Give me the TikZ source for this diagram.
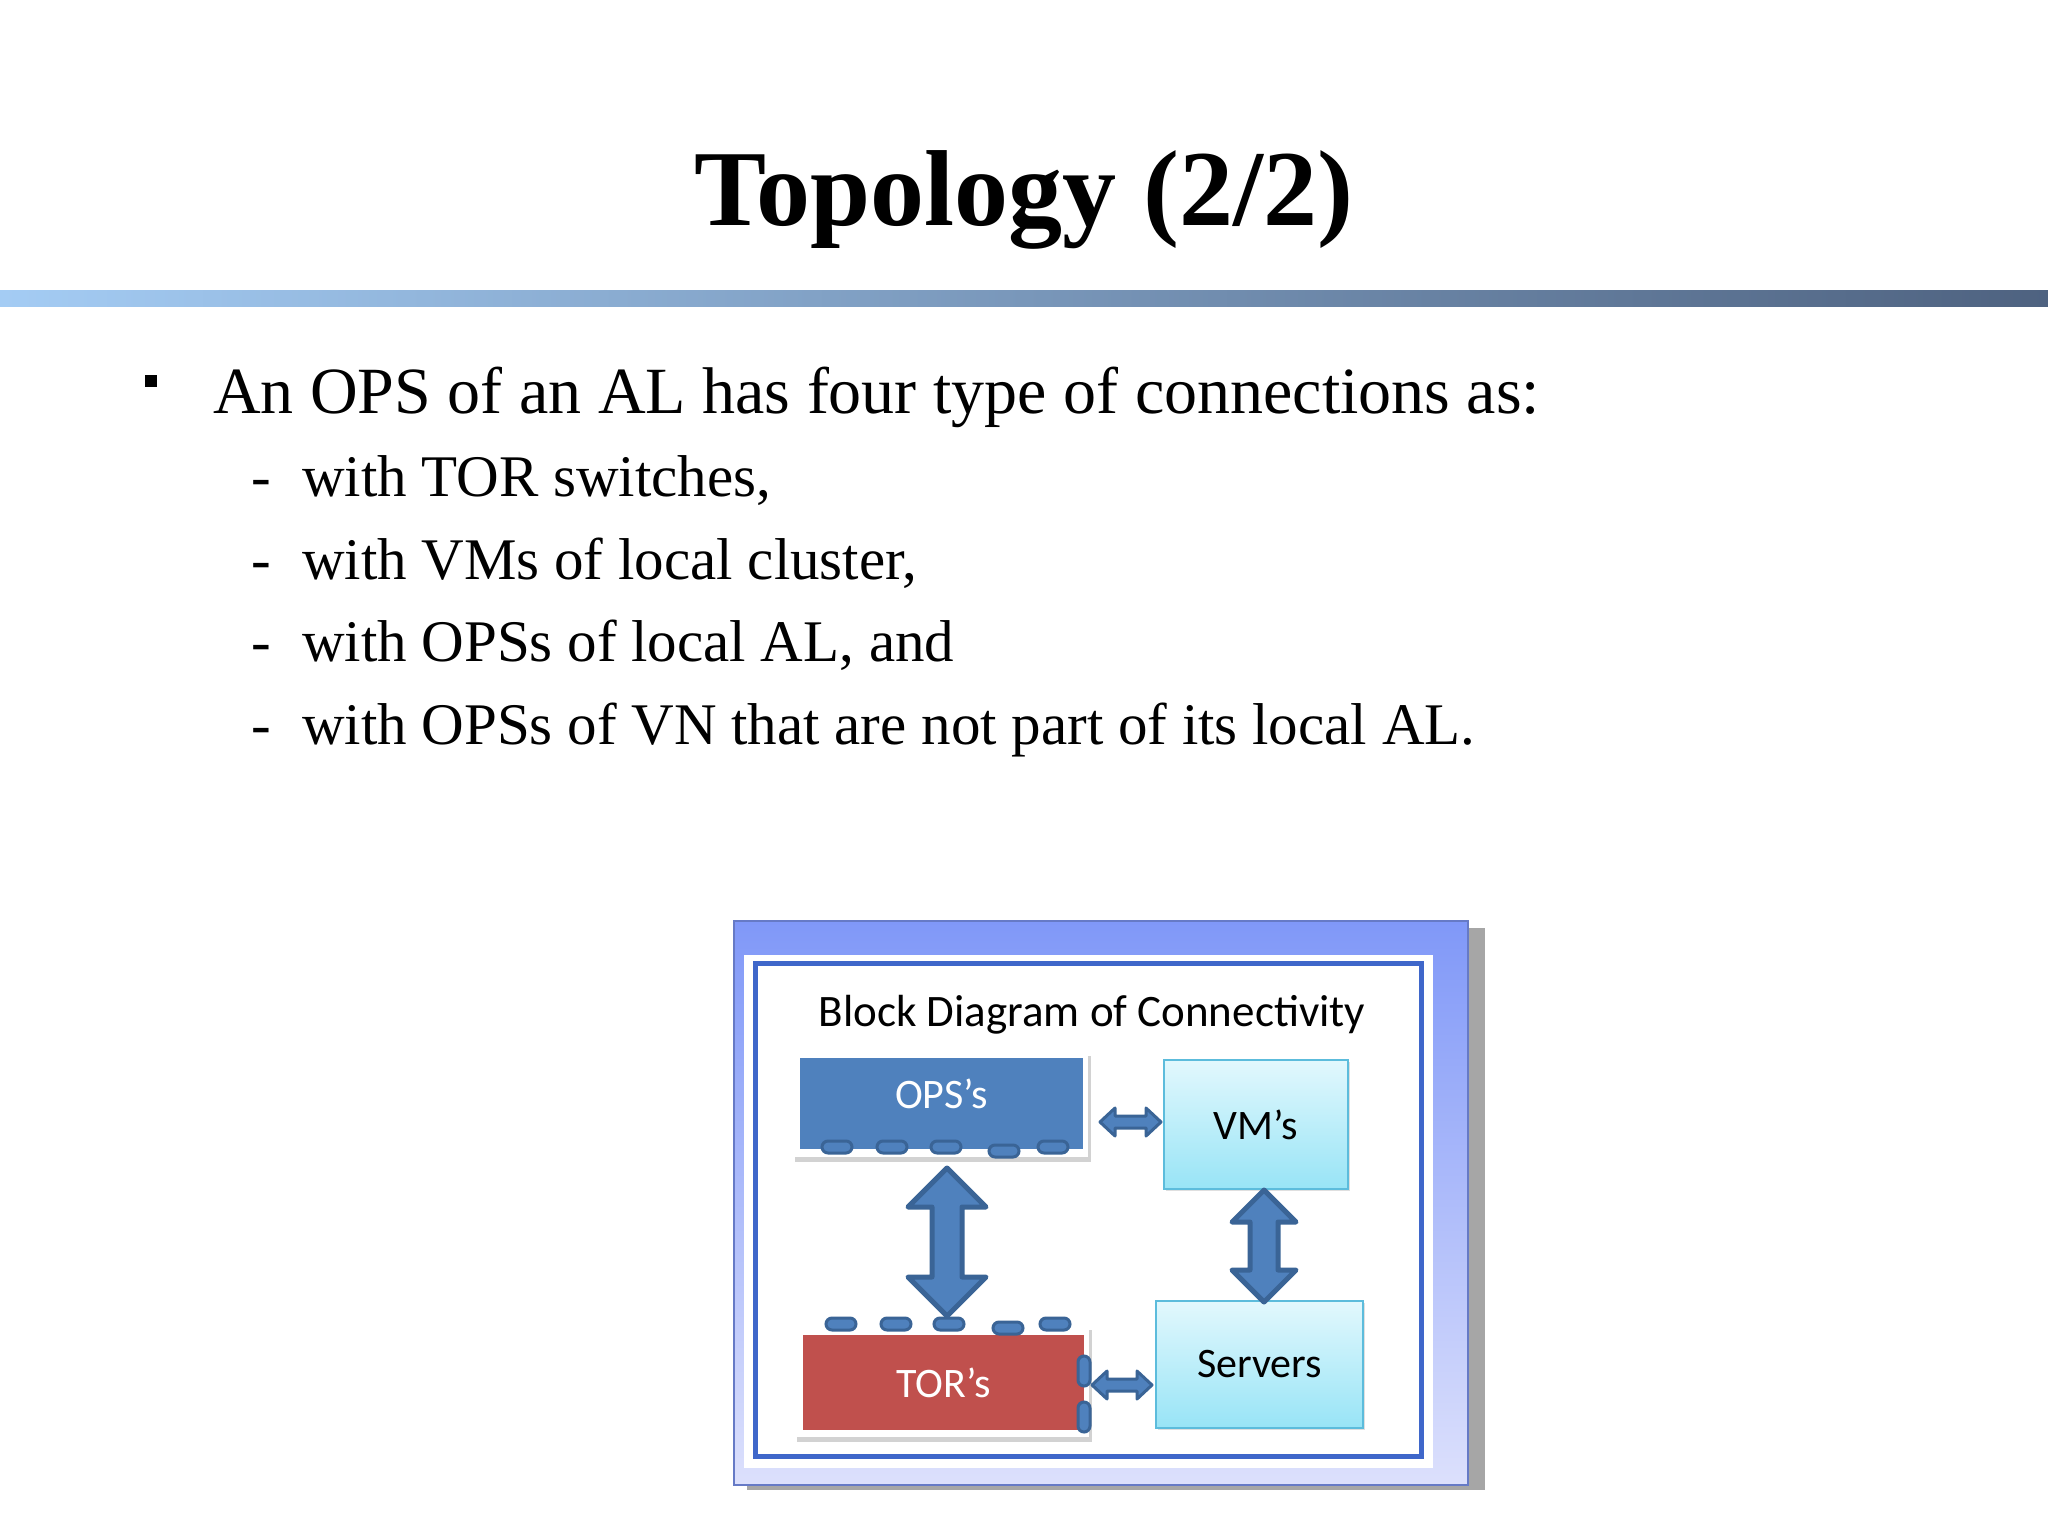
\documentclass[tikz,border=0pt]{standalone}
\usepackage{fontspec}
\setmainfont{Liberation Serif}
\newfontfamily\carl{Carlito}
\usetikzlibrary{shadows}
\definecolor{opsb}{HTML}{4F81BD}
\definecolor{torr}{HTML}{C0504D}
\definecolor{arrb}{HTML}{3A6496}
\definecolor{cyt}{HTML}{E2F8FD}
\definecolor{cyb}{HTML}{98E4F6}
\definecolor{cyl}{HTML}{5CBCDC}
\definecolor{barl}{HTML}{A4CCF4}
\definecolor{bard}{HTML}{4E6280}
\definecolor{outt}{HTML}{8098F8}
\definecolor{outb}{HTML}{DCE0FC}
\tikzset{
  bar/.style={fill=opsb,draw=arrb,line width=2.5pt,line join=round},
  portdash/.style={fill=opsb,draw=arrb,line width=1.5pt,rounded corners=3pt},
  cy/.style={top color=cyt,bottom color=cyb,draw=cyl,line width=1pt},
  lab/.style={font=\carl\fontsize{21}{24}\selectfont},
  sub/.style={anchor=base west,font=\fontsize{29.5}{32}\selectfont}
}
% vertical double arrow: x, ytop, ybot, half shaft, half head, head length
\newcommand\vdarrow[6]{\draw[bar] (#1,#2) -- (#1+#5,#2+#6) -- (#1+#4,#2+#6) -- (#1+#4,#3-#6) -- (#1+#5,#3-#6) -- (#1,#3) -- (#1-#5,#3-#6) -- (#1-#4,#3-#6) -- (#1-#4,#2+#6) -- (#1-#5,#2+#6) -- cycle;}
\newcommand\hdarrow[6]{\draw[bar,line width=1.5pt] (#2,#1) -- (#2+#6,#1-#5) -- (#2+#6,#1-#4) -- (#3-#6,#1-#4) -- (#3-#6,#1-#5) -- (#3,#1) -- (#3-#6,#1+#5) -- (#3-#6,#1+#4) -- (#2+#6,#1+#4) -- (#2+#6,#1+#5) -- cycle;}
\begin{document}
\begin{tikzpicture}[x=0.5pt,y=-0.5pt]
\useasboundingbox (0,0) rectangle (2048,1536);
\fill[white] (0,0) rectangle (2048,1536);
\node[font=\bfseries\fontsize{54}{60}\selectfont] (title) at (1024,200) {Topology (2/2)};
\shade[left color=barl,right color=bard] (0,290) rectangle (2048,306);
\fill (145,375) rectangle (157,387);
\node[anchor=base west,font=\fontsize{33}{36}\selectfont] (b1) at (206,413) {An OPS of an AL has four type of connections as:};
\foreach \t/\y in {{with TOR switches,}/496,{with VMs of local cluster,}/579,{with OPSs of local AL, and}/661,{with OPSs of VN that are not part of its local AL.}/744}{
  \node[sub] at (244,\y) {-};
  \node[sub] at (295,\y) {\t};
}
% diagram frame
\fill[gray!70] (747,928) rectangle (1485,1490);
\shade[top color=outt,bottom color=outb,draw=outt!80!black,line width=1pt] (734,921) rectangle (1468,1485);
\fill[white] (744,955) rectangle (1433,1468);
\draw[opsb!80!blue,line width=2.5pt] (755,963) rectangle (1421,1456);
\node[font=\carl\fontsize{22.5}{26}\selectfont] (dtitle) at (1092,1015) {Block Diagram of Connectivity};
% boxes
\fill[gray!35] (795,1056) rectangle (1091,1162);
\fill[white] (793,1052) rectangle (1088,1157);
\fill[opsb] (800,1058) rectangle (1083,1149) node[midway,lab,text=white,yshift=5pt] (ops) {OPS’s};
\fill[gray!35] (797,1330) rectangle (1092,1442);
\fill[white] (795,1328) rectangle (1089,1437);
\fill[torr] (803,1335) rectangle (1084,1430) node[midway,lab,text=white] (tor) {TOR’s};
\draw[cy,drop shadow={opacity=0.25,shadow xshift=1pt,shadow yshift=-1pt}] (1164,1060) rectangle (1348,1189) node[midway,lab] (vm) {VM’s};
\draw[cy,drop shadow={opacity=0.25,shadow xshift=1pt,shadow yshift=-1pt}] (1156,1301) rectangle (1363,1428) node[midway,lab] (srv) {Servers};
% port dashes
\foreach \x/\y in {837/1147,892/1147,946/1147,1004/1151,1053/1147, 841/1324,896/1324,949/1324,1008/1328,1055/1324}
  \draw[portdash] (\x-15,\y-6) rectangle (\x+15,\y+6);
\foreach \y in {1371,1417}
  \draw[portdash] (1078,\y-15) rectangle (1090,\y+15);
% arrows
\vdarrow{947}{1168}{1316}{15}{39}{39}
\vdarrow{1264}{1190}{1302}{14}{32}{32}
\hdarrow{1122}{1100}{1161}{6}{14}{15}
\hdarrow{1385}{1092}{1152}{6}{14}{15}
\end{tikzpicture}
\end{document}
